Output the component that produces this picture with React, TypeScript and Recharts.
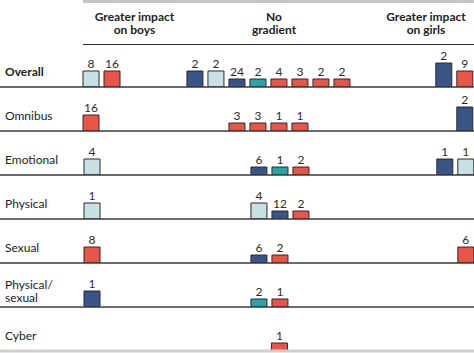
import React from "react";
import { BarChart, Bar, XAxis, YAxis, Cell, LabelList } from "recharts";

// row and column headings
const rowNames = ["Overall", "Omnibus", "Emotional", "Physical", "Sexual", "Physical/\nsexual", "Cyber"];
const groupNames = ["Greater impact\non boys", "No\ngradient", "Greater impact\non girls"];

// one entry per bar: group, slot inside group, number shown, bar height level, fill kind
// kind: L = light, D = dark blue, T = teal, R = red
const overall = [
  { group: "boys", slot: 0, count: 8, level: 2, kind: "L" },
  { group: "boys", slot: 1, count: 16, level: 2, kind: "R" },
  { group: "none", slot: 0, count: 2, level: 2, kind: "D" },
  { group: "none", slot: 1, count: 2, level: 2, kind: "L" },
  { group: "none", slot: 2, count: 24, level: 1, kind: "D" },
  { group: "none", slot: 3, count: 2, level: 1, kind: "T" },
  { group: "none", slot: 4, count: 4, level: 1, kind: "R" },
  { group: "none", slot: 5, count: 3, level: 1, kind: "R" },
  { group: "none", slot: 6, count: 2, level: 1, kind: "R" },
  { group: "none", slot: 7, count: 2, level: 1, kind: "R" },
  { group: "girls", slot: 0, count: 2, level: 3, kind: "D" },
  { group: "girls", slot: 1, count: 9, level: 2, kind: "R" },
];
const omnibus = [
  { group: "boys", slot: 0, count: 16, level: 2, kind: "R" },
  { group: "none", slot: 2, count: 3, level: 1, kind: "R" },
  { group: "none", slot: 3, count: 3, level: 1, kind: "R" },
  { group: "none", slot: 4, count: 1, level: 1, kind: "R" },
  { group: "none", slot: 5, count: 1, level: 1, kind: "R" },
  { group: "girls", slot: 1, count: 2, level: 3, kind: "D" },
];
const emotional = [
  { group: "boys", slot: 0, count: 4, level: 2, kind: "L" },
  { group: "none", slot: 3, count: 6, level: 1, kind: "D" },
  { group: "none", slot: 4, count: 1, level: 1, kind: "T" },
  { group: "none", slot: 5, count: 2, level: 1, kind: "R" },
  { group: "girls", slot: 0, count: 1, level: 2, kind: "D" },
  { group: "girls", slot: 1, count: 1, level: 2, kind: "L" },
];
const physical = [
  { group: "boys", slot: 0, count: 1, level: 2, kind: "L" },
  { group: "none", slot: 3, count: 4, level: 2, kind: "L" },
  { group: "none", slot: 4, count: 12, level: 1, kind: "D" },
  { group: "none", slot: 5, count: 2, level: 1, kind: "R" },
];
const sexual = [
  { group: "boys", slot: 0, count: 8, level: 2, kind: "R" },
  { group: "none", slot: 3, count: 6, level: 1, kind: "D" },
  { group: "none", slot: 4, count: 2, level: 1, kind: "R" },
  { group: "girls", slot: 1, count: 6, level: 2, kind: "R" },
];
const physicalSexual = [
  { group: "boys", slot: 0, count: 1, level: 2, kind: "D" },
  { group: "none", slot: 3, count: 2, level: 1, kind: "T" },
  { group: "none", slot: 4, count: 1, level: 1, kind: "R" },
];
const cyber = [{ group: "none", slot: 4, count: 1, level: 1, kind: "R" }];

const rowData = [overall, omnibus, emotional, physical, sexual, physicalSexual, cyber];

const COLORS: Record<string, string> = {
  L: "#c7e1e5",
  D: "#3b5488",
  T: "#2ba4a8",
  R: "#e8564a",
};

const W = 474;
const SLOT = 21; // px per column
const FIRST = 91.5; // centre of the first column, px
const GROUP_START: Record<string, number> = { boys: 0, none: 4.95, girls: 16.8 };
const FONT = "Lato, 'Open Sans', sans-serif";

function Row({ data, baseline, last }: { data: any[]; baseline: number; last: boolean }) {
  const rows = data.map((d) => ({ ...d, x: GROUP_START[d.group] + d.slot }));
  return (
    <div style={{ position: "absolute", left: 0, top: baseline - 44 }}>
      <BarChart width={W} height={46} data={rows} margin={{ top: 0, right: 0, bottom: 0, left: 0 }}>
        <XAxis
          type="number"
          dataKey="x"
          domain={[-FIRST / SLOT, (W - FIRST) / SLOT]}
          allowDataOverflow
          height={2}
          tick={false}
          tickLine={false}
          axisLine={{ stroke: last ? "#cfcfcf" : "#3a3a3a", strokeWidth: last ? 3 : 1.3 }}
        />
        <YAxis hide type="number" domain={[0, 5.5]} allowDataOverflow />
        <Bar dataKey="level" barSize={16} stroke="#2b2b2b" strokeWidth={1} isAnimationActive={false}>
          {rows.map((d, i) => (
            <Cell key={i} fill={COLORS[d.kind]} />
          ))}
          <LabelList dataKey="count" position="top" offset={3} fill="#2b2b2b" fontSize={12} fontFamily={FONT} />
        </Bar>
      </BarChart>
    </div>
  );
}

export default function App() {
  const headerCentres = [134.5, 274, 426];
  return (
    <div
      style={{
        position: "fixed",
        left: 0,
        top: 0,
        width: W,
        height: 353,
        overflow: "hidden",
        background: "#fff",
        fontFamily: FONT,
        color: "#222",
      }}
    >
      {/* top rule */}
      <div style={{ position: "absolute", left: 83, top: 0, width: W - 83, height: 2.5, background: "#c6c6c6" }} />

      {groupNames.map((g, i) => (
        <div
          key={g}
          style={{
            position: "absolute",
            left: headerCentres[i] - 70,
            top: 10,
            width: 140,
            textAlign: "center",
            whiteSpace: "pre-line",
            fontSize: 12,
            lineHeight: "13px",
            fontWeight: 700,
          }}
        >
          {g}
        </div>
      ))}
      <div style={{ position: "absolute", left: 83, top: 43.7, width: W - 83, height: 1.3, background: "#333" }} />

      {rowNames.map((name, i) => {
        const baseline = 87 + 44 * i;
        const twoLines = name.includes("\n");
        return (
          <div
            key={name}
            style={{
              position: "absolute",
              left: 5,
              top: baseline - (twoLines ? 29 : 22.5),
              whiteSpace: "pre-line",
              fontSize: 12,
              lineHeight: "13px",
              fontWeight: i === 0 ? 700 : 400,
            }}
          >
            {name}
          </div>
        );
      })}

      {rowData.map((d, i) => (
        <Row key={i} data={d} baseline={87 + 44 * i} last={i === rowData.length - 1} />
      ))}
    </div>
  );
}
